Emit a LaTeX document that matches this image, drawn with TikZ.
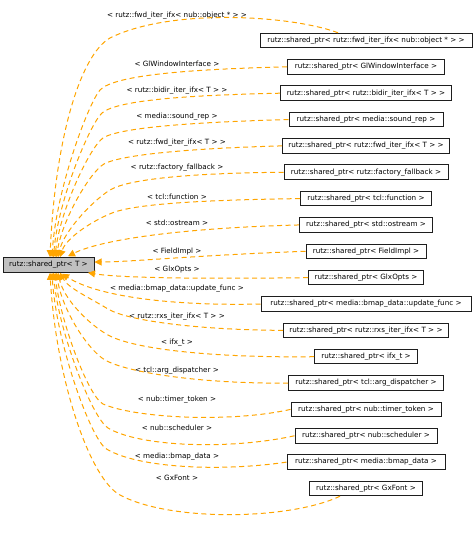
\documentclass[tikz,border=0pt]{standalone}
\usepackage{fontspec}
\setmainfont{DejaVu Sans}
\usetikzlibrary{arrows.meta}
\definecolor{edgeorange}{RGB}{255,165,0}
\definecolor{maingray}{RGB}{192,192,192}
\definecolor{boxline}{RGB}{30,30,30}
\begin{document}
\begin{tikzpicture}[x=1pt,y=-1pt,
  font=\fontsize{7.2}{8.6}\selectfont,
  box/.style={draw=boxline, line width=1pt, minimum height=14.5pt, inner sep=0pt, fill=white},
  mainbox/.style={box, fill=maingray},
  lbl/.style={inner sep=0pt},
  dep/.style={draw=edgeorange, line width=1pt, dash pattern=on 5pt off 3.5pt,
    -{Triangle[length=7pt,width=7pt]}}
]
\useasboundingbox (0,0) rectangle (474,540);

% main node
\node[mainbox, minimum width=91pt] (main) at (48.5,265) {rutz::shared\_ptr< T >};

% instance nodes
\node[box, minimum width=212pt] (b1)  at (366,40.5)   {rutz::shared\_ptr< rutz::fwd\_iter\_ifx< nub::object * > >};
\node[box, minimum width=157pt] (b2)  at (366,66.85)  {rutz::shared\_ptr< GlWindowInterface >};
\node[box, minimum width=171pt] (b3)  at (366,93.2)   {rutz::shared\_ptr< rutz::bidir\_iter\_ifx< T > >};
\node[box, minimum width=154pt] (b4)  at (366,119.55) {rutz::shared\_ptr< media::sound\_rep >};
\node[box, minimum width=167pt] (b5)  at (366,145.9)  {rutz::shared\_ptr< rutz::fwd\_iter\_ifx< T > >};
\node[box, minimum width=164pt] (b6)  at (366,172.25) {rutz::shared\_ptr< rutz::factory\_fallback >};
\node[box, minimum width=131pt] (b7)  at (366,198.6)  {rutz::shared\_ptr< tcl::function >};
\node[box, minimum width=133pt] (b8)  at (366,224.95) {rutz::shared\_ptr< std::ostream >};
\node[box, minimum width=120pt] (b9)  at (366,251.3)  {rutz::shared\_ptr< FieldImpl >};
\node[box, minimum width=115pt] (b10) at (366,277.65) {rutz::shared\_ptr< GlxOpts >};
\node[box, minimum width=210pt] (b11) at (366,304.0)  {rutz::shared\_ptr< media::bmap\_data::update\_func >};
\node[box, minimum width=165pt] (b12) at (366,330.35) {rutz::shared\_ptr< rutz::rxs\_iter\_ifx< T > >};
\node[box, minimum width=103pt] (b13) at (366,356.7)  {rutz::shared\_ptr< ifx\_t >};
\node[box, minimum width=155pt] (b14) at (366,383.05) {rutz::shared\_ptr< tcl::arg\_dispatcher >};
\node[box, minimum width=150pt] (b15) at (366,409.4)  {rutz::shared\_ptr< nub::timer\_token >};
\node[box, minimum width=142pt] (b16) at (366,435.75) {rutz::shared\_ptr< nub::scheduler >};
\node[box, minimum width=158pt] (b17) at (366,462.1)  {rutz::shared\_ptr< media::bmap\_data >};
\node[box, minimum width=113pt] (b18) at (366,488.45) {rutz::shared\_ptr< GxFont >};

% edge labels
\node[lbl] (l1)  at (177,16)  {< rutz::fwd\_iter\_ifx< nub::object * > >};
\node[lbl] (l2)  at (177,64)  {< GlWindowInterface >};
\node[lbl] (l3)  at (177,91)  {< rutz::bidir\_iter\_ifx< T > >};
\node[lbl] (l4)  at (177,117) {< media::sound\_rep >};
\node[lbl] (l5)  at (177,143) {< rutz::fwd\_iter\_ifx< T > >};
\node[lbl] (l6)  at (177,168) {< rutz::factory\_fallback >};
\node[lbl] (l7)  at (177,197) {< tcl::function >};
\node[lbl] (l8)  at (177,223) {< std::ostream >};
\node[lbl] (l9)  at (177,252) {< FieldImpl >};
\node[lbl] (l10) at (177,270) {< GlxOpts >};
\node[lbl] (l11) at (177,289) {< media::bmap\_data::update\_func >};
\node[lbl] (l12) at (177,317) {< rutz::rxs\_iter\_ifx< T > >};
\node[lbl] (l13) at (177,343) {< ifx\_t >};
\node[lbl] (l14) at (177,371) {< tcl::arg\_dispatcher >};
\node[lbl] (l15) at (177,400) {< nub::timer\_token >};
\node[lbl] (l16) at (177,428) {< nub::scheduler >};
\node[lbl] (l17) at (177,457) {< media::bmap\_data >};
\node[lbl] (l18) at (177,478) {< GxFont >};

% edges (upper group)
\draw[dep] ([xshift=-28pt]b1.north) .. controls (290,15) and (170,8) .. (110,38)
  .. controls (80,55) and (55,140) .. ([xshift=1.5pt]main.north);
\draw[dep] (b2.west) .. controls (200,69) and (115,74) .. (100,90)
  .. controls (88,104) and (56,190) .. ([xshift=3.5pt]main.north);
\draw[dep] (b3.west) .. controls (200,95) and (118,99) .. (102,113)
  .. controls (90,124) and (58,200) .. ([xshift=5pt]main.north);
\draw[dep] (b4.west) .. controls (200,122) and (120,127) .. (103,138)
  .. controls (90,147) and (60,210) .. ([xshift=6.5pt]main.north);
\draw[dep] (b5.west) .. controls (200,148) and (122,154) .. (104,164)
  .. controls (90,172) and (62,220) .. ([xshift=8pt]main.north);
\draw[dep] (b6.west) .. controls (200,173) and (130,178) .. (110,190)
  .. controls (95,199) and (64,230) .. ([xshift=9.5pt]main.north);
\draw[dep] (b7.west) .. controls (200,200) and (135,204) .. (112,213)
  .. controls (92,221) and (66,238) .. ([xshift=11.5pt]main.north);
\draw[dep] (b8.west) .. controls (180,228) and (100,240) .. ([xshift=19.5pt,yshift=1pt]main.north);
\draw[dep] (b9.west) .. controls (200,255) and (130,262) .. ([yshift=3pt]main.east);

% edges (lower group)
\draw[dep] (b10.west) .. controls (200,279) and (120,278) .. ([xshift=39.5pt]main.south);
\draw[dep] (b11.west) .. controls (180,306) and (100,298) .. ([xshift=13.5pt,yshift=-1pt]main.south);
\draw[dep] (b12.west) .. controls (200,330) and (128,321) .. (108,309)
  .. controls (90,298) and (68,288) .. ([xshift=11.5pt]main.south);
\draw[dep] (b13.west) .. controls (220,358) and (135,350) .. (108,335)
  .. controls (90,325) and (64,300) .. ([xshift=9.5pt]main.south);
\draw[dep] (b14.west) .. controls (210,384) and (130,374) .. (105,360)
  .. controls (88,350) and (62,310) .. ([xshift=8pt]main.south);
\draw[dep] (b15.west) .. controls (230,423) and (135,418) .. (103,404)
  .. controls (88,396) and (60,320) .. ([xshift=6.5pt]main.south);
\draw[dep] (b16.west) .. controls (230,450) and (140,447) .. (108,428)
  .. controls (92,418) and (58,330) .. ([xshift=5pt]main.south);
\draw[dep] (b17.west) .. controls (220,472) and (135,468) .. (105,448)
  .. controls (88,432) and (56,340) .. ([xshift=3.5pt]main.south);
\draw[dep] ([xshift=-26pt]b18.south) .. controls (290,520) and (170,522) .. (120,495)
  .. controls (90,479) and (56,380) .. ([xshift=1.5pt]main.south);
\end{tikzpicture}
\end{document}
